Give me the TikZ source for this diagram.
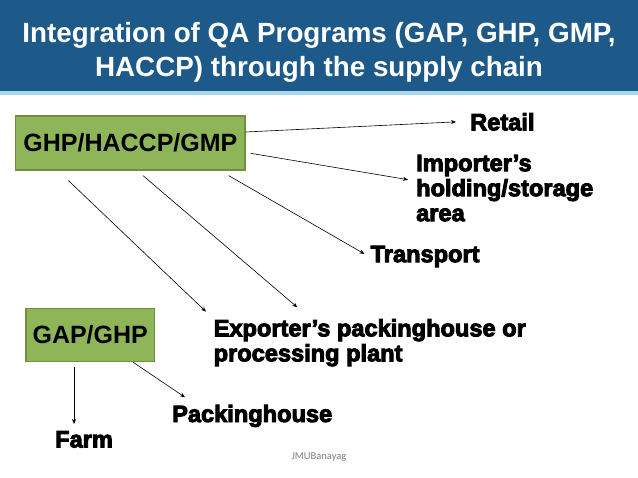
\documentclass[tikz,border=0pt]{standalone}
\usepackage{fontspec}
\setmainfont{Liberation Sans}
\newfontfamily\heavyfont[FakeBold=4]{Liberation Sans Bold}
\newfontfamily\notefont{Carlito}
\usetikzlibrary{calc}
\usetikzlibrary{arrows.meta}

\definecolor{bandblue}{HTML}{1D5A89}
\definecolor{bandline}{HTML}{A8D4EC}
\definecolor{progfill}{HTML}{8FB559}
\definecolor{progedge}{HTML}{718F3F}

\begin{document}
\begin{tikzpicture}[x=1pt, y=-1pt,
    prog/.style={draw=progedge, fill=progfill, line width=1.2pt, inner sep=0pt, font=\bfseries\fontsize{25}{28}\selectfont},
    stage/.style={font=\heavyfont\fontsize{23.6}{25}\selectfont, align=left, inner sep=0pt, anchor=north west},
    link/.style={-{Stealth[length=5pt, width=4pt]}, line width=0.6pt}]

    \useasboundingbox (0, 0) rectangle (638, 478);
    \fill[white] (0, 0) rectangle (638, 478);

    \fill[bandblue] (0, 0) rectangle (638, 91);
    \fill[bandline] (0, 91) rectangle (638, 95);
    \node[text=white, align=center, inner sep=0pt, anchor=north, font=\bfseries\fontsize{27.8}{34}\selectfont] (title) at (319, 22)
        {Integration of QA Programs (GAP, GHP, GMP,\\ HACCP) through the supply chain};

    \node[prog, minimum width=229.3, minimum height=54] (gh) at (130.4, 143) {GHP/HACCP/GMP};
    \node[prog, minimum width=128.3, minimum height=53.4] (gp) at (90.2, 335) {GAP/GHP};

    \node[stage] (retail) at (470, 113) {Retail};
    \node[stage] (importer) at (416, 154.7) {Importer’s\\ holding/storage\\ area};
    \node[stage] (transport) at (370.5, 245.7) {Transport};
    \node[stage] (exporter) at (213.5, 319) {Exporter’s packinghouse or\\ processing plant};
    \node[stage] (packing) at (172, 404.7) {Packinghouse};
    \node[stage] (farm) at (55, 431) {Farm};

    \node[text=gray, font=\notefont\fontsize{10.5}{12}\selectfont] (sign) at (319, 457) {JMUBanayag};

    \draw[link] ($(gh.east)+(0, -11)$) -- ($(retail.west)+(-14, 0)$);
    \draw[link] ($(gh.east)+(5, 10.3)$) -- ($(importer.north west)+(-8, 25)$);
    \draw[link] ($(gh.south east)+(-17, 5)$) -- ($(transport.west)+(-6, -2.5)$);
    \draw[link] ($(gh.south)+(12.6, 5)$) -- ($(exporter.north west)+(83.8, -11.7)$);
    \draw[link] ($(gh.south west)+(53.3, 10)$) -- ($(exporter.north west)+(-7.5, -7.3)$);

    \draw[link] ($(gp.south)+(43, 0)$) -- ($(packing.north west)+(13, -7.4)$);
    \draw[link] ($(gp.south)+(-16.2, 5)$) -- ($(farm.north west)+(19, -7)$);
\end{tikzpicture}
\end{document}
